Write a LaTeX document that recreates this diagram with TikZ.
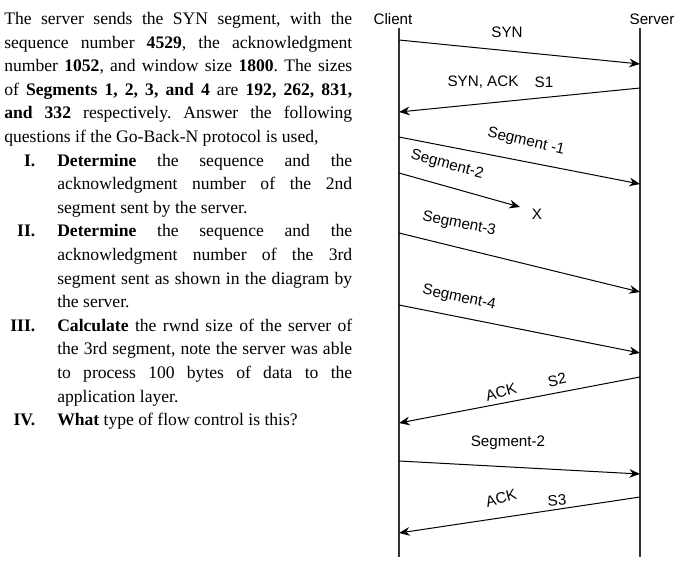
\documentclass[tikz,border=0pt]{standalone}
\usepackage{fontspec}
\setmainfont{Liberation Serif}
\newfontfamily\diagfont{Liberation Sans}
\usetikzlibrary{arrows.meta}
\frenchspacing

\begin{document}
\begin{tikzpicture}[x=0.75pt,y=-0.75pt,
  lifeline/.style={line width=0.9pt,draw=black!80},
  msg/.style={line width=0.75pt,-{Stealth[length=8pt,width=6.5pt]}},
  lbl/.style={font=\diagfont\fontsize{11.4}{13}\selectfont,inner sep=0pt}]

  \useasboundingbox (0,0) rectangle (678,569);

  \node[anchor=north west,inner sep=0pt,text width=261pt,align=justify,
    font=\fontsize{13.2}{17.7}\selectfont] (question) at (4,12) {%
    The server sends the SYN segment, with the\linebreak
    sequence number \textbf{4529}, the acknowledgment\linebreak
    number \textbf{1052}, and window size \textbf{1800}. The sizes\linebreak
    of \textbf{Segments 1, 2, 3, and 4} are \textbf{192, 262, 831,}\linebreak
    \textbf{and 332} respectively. Answer the following\linebreak
    questions if the Go-Back-N protocol is used,
    \begin{list}{}{\leftmargin=39.75pt\labelsep=16.5pt\labelwidth=23.25pt
      \itemsep=0pt\parsep=0pt\topsep=0pt\partopsep=0pt\itemindent=0pt}
    \item[\textbf{I.}] \textbf{Determine} the sequence and the\linebreak
      acknowledgment number of the 2nd\linebreak
      segment sent by the server.
    \item[\textbf{II.}] \textbf{Determine} the sequence and the\linebreak
      acknowledgment number of the 3rd\linebreak
      segment sent as shown in the diagram by\linebreak
      the server.
    \item[\textbf{III.}] \textbf{Calculate} the rwnd size of the server of\linebreak
      the 3rd segment, note the server was able\linebreak
      to process 100 bytes of data to the\linebreak
      application layer.
    \item[\textbf{IV.}] \textbf{What} type of flow control is this?
    \end{list}};

  \node[lbl] (client) at (393,19) {Client};
  \node[lbl] (server) at (652,19) {Server};
  \coordinate (ctop) at (399,28);
  \coordinate (cbot) at (399,557);
  \coordinate (stop) at (640,28);
  \coordinate (sbot) at (640,557);
  \draw[lifeline] (ctop) -- (cbot);
  \draw[lifeline] (stop) -- (sbot);

  \foreach \n/\yc/\ys in {1/40/64,3/137/184,5/233/292,6/305/353,8/461/474}{
    \coordinate (c\n) at (399,\yc);
    \coordinate (s\n) at (640,\ys);
    \draw[msg] (c\n) -- (s\n);
  }
  \foreach \n/\ys/\yc in {2/88/112,7/377/423,9/497/533}{
    \coordinate (s\n) at (640,\ys);
    \coordinate (c\n) at (399,\yc);
    \draw[msg] (s\n) -- (c\n);
  }
  \coordinate (c4) at (399,173);
  \coordinate (lost) at (520,207);
  \draw[msg] (c4) -- (lost);

  \node[lbl] (syn) at (507,32) {SYN};
  \node[lbl] (synack) at (483,82) {SYN, ACK};
  \node[lbl] (sone) at (544,82) {S1};
  \node[lbl,rotate=-13] (segone) at (526,142) {Segment -1};
  \node[lbl,rotate=-15] (segtwo) at (447,165) {Segment-2};
  \node[lbl] (lostx) at (537,214) {X};
  \node[lbl,rotate=-11] (segthree) at (459,224) {Segment-3};
  \node[lbl,rotate=-12] (segfour) at (459,298) {Segment-4};
  \node[lbl,rotate=15] (acktwo) at (501,392) {ACK};
  \node[lbl,rotate=12] (stwo) at (557,380) {S2};
  \node[lbl] (segretx) at (508,443) {Segment-2};
  \node[lbl,rotate=15] (ackthree) at (501,498) {ACK};
  \node[lbl,rotate=5] (sthree) at (557,500) {S3};

\end{tikzpicture}
\end{document}
